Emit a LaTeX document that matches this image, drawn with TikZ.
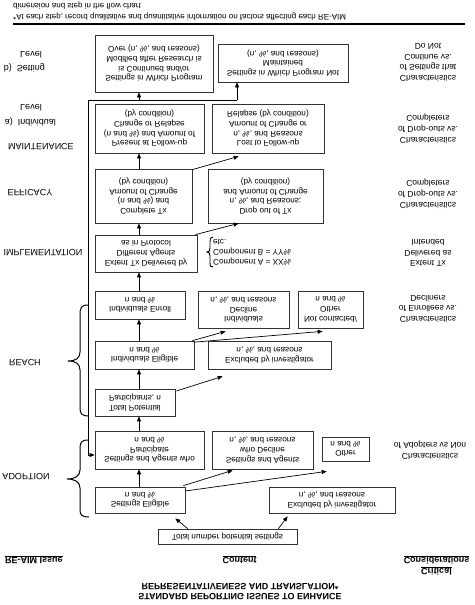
\documentclass[tikz,border=0pt]{standalone}
\usepackage{fontspec}
\setmainfont{Liberation Sans}
\usetikzlibrary{arrows.meta,calc}
\begin{document}
\begin{tikzpicture}[x=1pt,y=1pt,yscale=-1,transform shape,
  box/.style={draw=black!80, line width=0.7pt, align=center, inner sep=1pt, font=\fontsize{8.2}{9.7}\selectfont},
  lbl/.style={align=center, font=\fontsize{9}{11}\selectfont},
  crit/.style={align=center, font=\fontsize{8.5}{10.8}\selectfont},
  hdr/.style={align=center, font=\bfseries\fontsize{9}{11}\selectfont},
  arr/.style={-{Triangle[length=5pt,width=4pt]}, line width=0.7pt},
  ln/.style={line width=0.8pt},
  brc/.style={line width=1pt},
]
\path[use as bounding box] (0,0) rectangle (474,605);

% footnote and rule
\node[anchor=west, align=left, inner sep=0pt, font=\fontsize{8}{11}\selectfont] (fn) at (13,11.5)
  {*At each step, record qualitative and quantitative information on factors affecting each RE-AIM\\dimension and step in the flow chart};
\draw[line width=1.5pt] (13,24) -- (465,24);

% boxes
\node[box, minimum width=118, minimum height=57] (sm1) at (154,63.5)
  {Settings in Which Program\\is Continued and/or\\Modified after Research is\\Over (n, \%, and reasons)};
\node[box, minimum width=130, minimum height=38] (sm2) at (283,63)
  {Settings in Which Program Not\\Maintained\\(n, \%, and reasons)};
\node[box, minimum width=109, minimum height=49] (im1) at (149.5,128.5)
  {Present at Follow-up\\(n and \%) and Amount of\\Change or Relapse\\(by condition)};
\node[box, minimum width=112, minimum height=49] (im2) at (268,128.5)
  {Lost to Follow-up\\n, \%, and Reasons\\Amount of Change or\\Relapse (by condition)};
\node[box, minimum width=97, minimum height=54] (ef1) at (143.5,196)
  {Complete Tx\\(n and \%) and\\Amount of Change\\(by condition)};
\node[box, minimum width=115, minimum height=54] (ef2) at (265.5,196)
  {Drop out of Tx\\n, \%, and Reasons;\\and Amount of Change\\(by condition)};
\node[box, minimum width=102, minimum height=37] (imp) at (146,253.5)
  {Extent Tx Delivered by\\Different Agents\\as in Protocol};
\node[box, minimum width=90, minimum height=28] (en) at (140,305)
  {Individuals Enroll\\n and \%};
\node[box, minimum width=91, minimum height=37] (dec) at (243.5,309.5)
  {Individuals\\Decline\\n, \%, and reasons};
\node[box, minimum width=65, minimum height=37] (nc) at (330.5,309.5)
  {Not contacted/\\Other\\n and \%};
\node[box, minimum width=99, minimum height=28] (el) at (144.5,355)
  {Individuals Eligible\\n and \%};
\node[box, minimum width=123, minimum height=28] (exi) at (269.5,355)
  {Excluded by investigator\\n, \%, and reasons};
\node[box, minimum width=80, minimum height=27] (tp) at (135,402.5)
  {Total Potential\\Participants, n};
\node[box, minimum width=109, minimum height=38] (sp) at (149.5,450)
  {Settings and Agents who\\Participate\\n and \%};
\node[box, minimum width=101, minimum height=38] (sd) at (262.5,450)
  {Settings and Agents\\who Decline\\n, \%, and reasons};
\node[box, minimum width=47, minimum height=24] (so) at (345.5,449)
  {Other\\n and \%};
\node[box, minimum width=90, minimum height=26] (se) at (140,500)
  {Settings Eligible\\n and \%};
\node[box, minimum width=126, minimum height=26] (sx) at (332,500)
  {Excluded by investigator\\n, \%, and reasons};
\node[box, minimum width=139, minimum height=15] (tot) at (227.5,536.5)
  {Total number potential settings};

% components
\node[align=left, inner sep=0pt, font=\fontsize{8.2}{10}\selectfont] (comp) at (252,252)
  {Component A = XX\%\\Component B = YY\%\\etc.};
\draw[line width=0.9pt] (213,237) .. controls (210,237) and (210,239) .. (210,242) -- (210,248)
  .. controls (210,251) and (209,252) .. (207,252) .. controls (209,252) and (210,253) .. (210,256)
  -- (210,263) .. controls (210,266) and (210,267) .. (213,267);

% left labels
\node[lbl, inner sep=0pt] (bset) at (24.5,68) {b)\hspace{5pt}Setting};
\node[lbl, inner sep=0pt] (blev) at (31,55) {Level};
\node[lbl, inner sep=0pt] (aind) at (30.5,122) {a)\hspace{5pt}Individual};
\node[lbl, inner sep=0pt] (alev) at (31,108) {Level};
\node[lbl, inner sep=0pt] (lmain) at (41,147) {MAINTENANCE};
\node[lbl, inner sep=0pt] (leff) at (30,193) {EFFICACY};
\node[lbl, inner sep=0pt] (limp) at (43,253) {IMPLEMENTATION};
\node[lbl, inner sep=0pt] (lreach) at (25,363) {REACH};
\node[lbl, inner sep=0pt] (ladopt) at (26,477) {ADOPTION};

% right column
\node[crit] (csm) at (428,62.5) {Characteristics\\of Settings that\\Continue vs.\\Do Not};
\node[crit] (cim) at (428,128.5) {Characteristics\\of Drop-outs vs.\\Completers};
\node[crit] (cef) at (428,193.5) {Characteristics\\of Drop-outs vs.\\Completers};
\node[crit] (cimp) at (428,253) {Extent Tx\\Delivered as\\Intended};
\node[crit] (creach) at (428,309) {Characteristics\\of Enrollees vs.\\Decliners};
\node[crit] (cad) at (430,450.5) {Characteristics\\of Adopters vs Non};

% headers and title
\node[hdr] (hre) at (34,560) {\underline{RE-AIM Issue}};
\node[hdr] (hco) at (239.5,560) {\underline{Content}};
\node[hdr] (hcr) at (436.5,565.5) {\underline{Critical}\\\underline{Considerations}};
\node[hdr, font=\bfseries\fontsize{9}{10}\selectfont] (title) at (240,592)
  {STANDARD REPORTING ISSUES TO ENHANCE\\REPRESENTATIVENESS AND TRANSLATION*};

% braces
\draw[brc] (88,305) .. controls (81,305) and (80,308) .. (80,315) -- (80,352)
  .. controls (80,358) and (76,361) .. (68,361) .. controls (76,361) and (80,364) .. (80,370)
  -- (80,408) .. controls (80,414) and (82,416) .. (89,416);
\draw[brc] (88,440) .. controls (81,440) and (80,443) .. (80,449) -- (80,470)
  .. controls (80,476) and (75,479) .. (67,479) .. controls (75,479) and (80,482) .. (80,488)
  -- (80,510) .. controls (80,515) and (82,517) .. (89,517);

% connectors
\coordinate (ax) at (139,0);
\coordinate (hl) at (88,100);
\coordinate (hr) at (237,100);
\coordinate (pl) at ($(sp.west)+(0,5)$);
\draw[arr] (hr) -- (hl) -- (hl |- pl) -- (pl);
\draw[arr] (hl -| ax) -- (sm1.north -| ax);
\draw[arr] (hr) -- (sm2.north -| hr);

\draw[arr] (se.south -| ax) -- (sp.north -| ax);
\draw[arr] (sp.south -| ax) -- (tp.north -| ax);
\draw[arr] (tp.south -| ax) -- (el.north -| ax);
\draw[arr] (el.south -| ax) -- (en.north -| ax);
\draw[arr] (en.south -| ax) -- (imp.north -| ax);
\draw[arr] (imp.south -| ax) -- (ef1.north -| ax);
\draw[arr] (ef1.south -| ax) -- (im1.north -| ax);

\draw[arr] ($(tot.south west)+(30,0)$) -- ($(se.north east)+(-10,5)$);
\draw[arr] ($(tot.south east)+(-19,0)$) -- ($(sx.north west)+(19,3)$);
\draw[arr] ($(se.south east)+(-2,-1)$) -- ($(sd.north west)+(21,1)$);
\draw[arr] ($(se.east)+(0,-9)$) -- ($(so.north west)+(5,10)$);
\draw[arr] ($(tp.east)+(1,-11.5)$) -- ($(exi.north west)+(15,7)$);
\draw[arr] ($(el.south east)+(-2,0)$) -- ($(dec.north west)+(28,3)$);
\draw[arr] ($(el.south east)+(0,1.5)$) -- ($(nc.north west)+(25,3)$);
\draw[arr] ($(imp.south east)+(-2,0)$) -- ($(ef2.north west)+(31,0)$);
\draw[arr] ($(ef1.south east)+(0,1)$) -- ($(im2.north west)+(27,3)$);
\end{tikzpicture}
\end{document}
